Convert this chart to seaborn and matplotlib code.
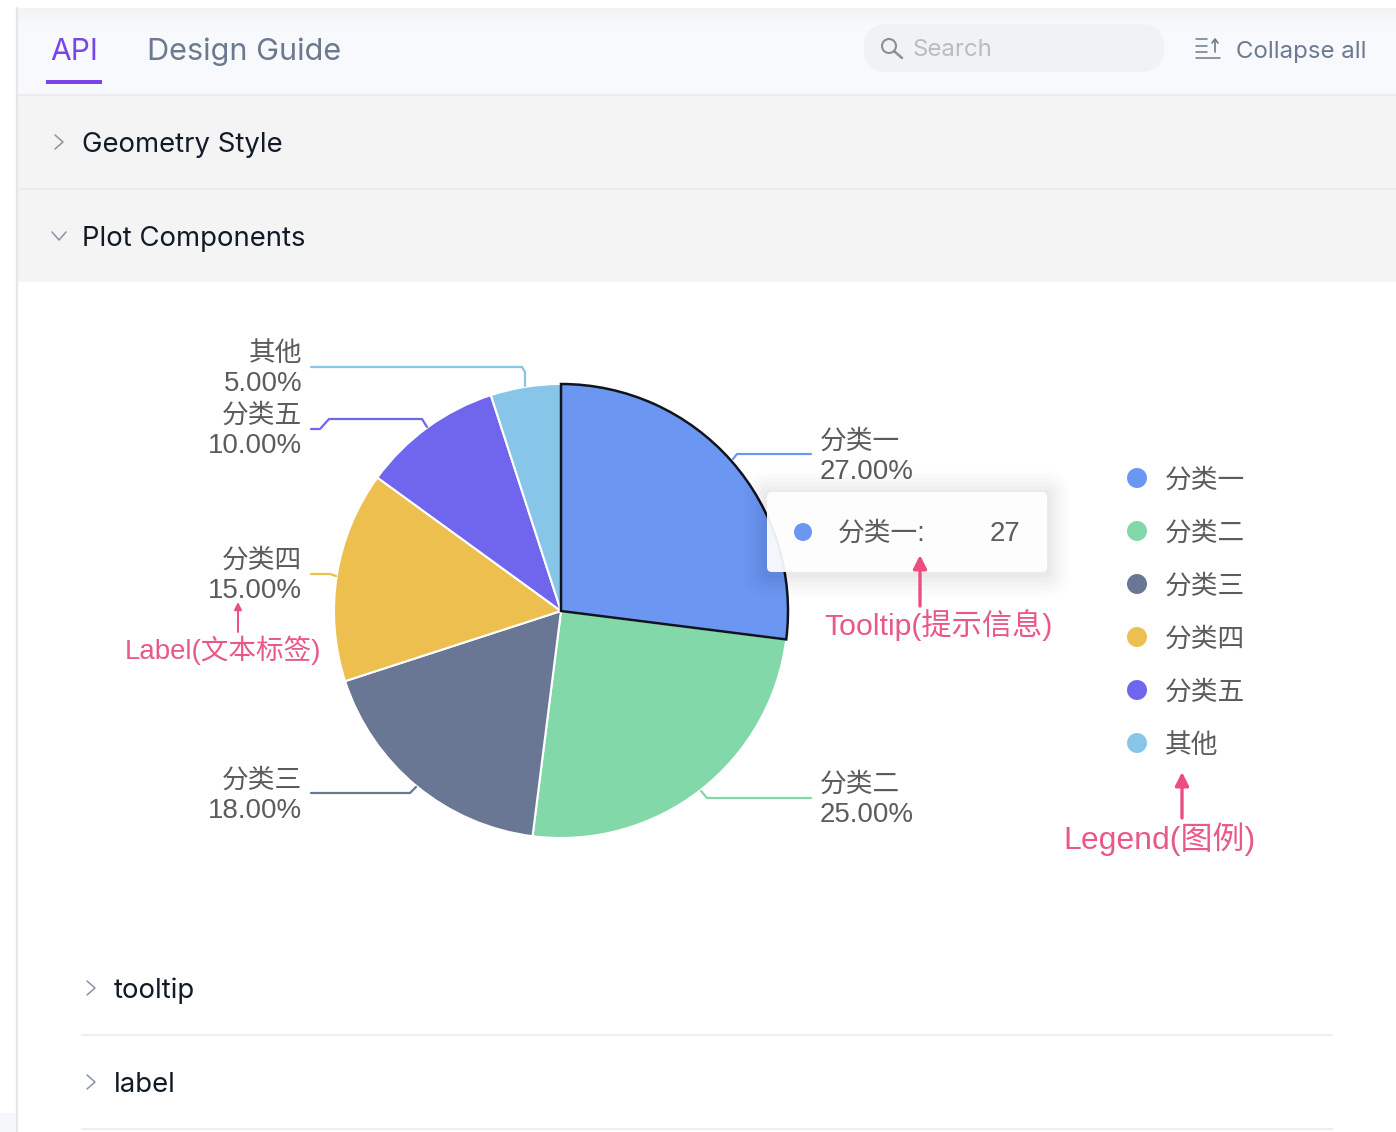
import matplotlib
matplotlib.use("Agg")
import matplotlib.pyplot as plt
from matplotlib.patches import Rectangle, FancyBboxPatch, Circle
import seaborn as sns
import pandas as pd

sns.set_style("white")
plt.rcParams["font.family"] = ["Inter", "Noto Sans CJK SC", "DejaVu Sans"]

CATEGORIES = ["分类一", "分类二", "分类三", "分类四", "分类五", "其他"]
VALUES = [27, 25, 18, 15, 10, 5]
PERCENT_LABELS = ["27.00%", "25.00%", "18.00%", "15.00%", "10.00%", "5.00%"]
COLORS = ["#6b96f2", "#83d8aa", "#697795", "#edbf4f", "#7066ee", "#87c6e8"]

W, H = 1396, 1132
PINK = "#e8588a"
LABEL_GREY = "#5c5c5c"
CHART_FONT = ["Liberation Sans", "Noto Sans CJK SC", "DejaVu Sans"]


def px(size):
    # font size given in image pixels
    return size * 0.72


fig = plt.figure(figsize=(W / 100, H / 100), dpi=100)
ax = fig.add_axes([0, 0, 1, 1])


def page_text(x, y, s, size, color, **kw):
    # va=center sits a bit high for these fonts, nudge down
    kw.setdefault("zorder", 3)
    ax.text(x, y + 3, s, fontsize=px(size), color=color, va="center", **kw)


# pie first, since it resets the limits; y is flipped so counterclock reads clockwise
wedges, _ = ax.pie(VALUES, colors=COLORS, startangle=-90, counterclock=True,
                   center=(561, 611), radius=227, frame=False,
                   wedgeprops=dict(edgecolor="white", linewidth=1.5))
wedges[0].set_edgecolor("#10141c")
wedges[0].set_linewidth(1.8)
wedges[0].set_zorder(wedges[0].get_zorder() + 0.5)
ax.set_xlim(0, W)
ax.set_ylim(H, 0)
ax.set_aspect("auto")
ax.axis("off")

# page chrome
ax.add_patch(Rectangle((18, 8), W, 87, fc="#f8f9fc", ec="none", zorder=0))
for i, c in enumerate(["#f2f3f5", "#f3f4f6", "#f4f5f7", "#f5f6f8", "#f6f7fa", "#f7f8fb"]):
    ax.add_patch(Rectangle((18, 8 + i * 3), W, 3, fc=c, ec="none", zorder=0.1))
ax.add_patch(Rectangle((18, 96), W, 186, fc="#f4f4f4", ec="none", zorder=0))
ax.plot([18, W], [95, 95], color="#ececec", lw=1.5, zorder=1)
ax.plot([18, W], [189, 189], color="#ececec", lw=1.5, zorder=1)
ax.plot([17, 17], [8, H], color="#e6e6e6", lw=1.6, zorder=1)
ax.add_patch(Rectangle((0, 1113), 16, 19, fc="#f6f7fb", ec="none", zorder=0))
ax.plot([82, 1332], [1035, 1035], color="#eeeeee", lw=1.5, zorder=1)
ax.plot([82, 1332], [1129, 1129], color="#eeeeee", lw=1.5, zorder=1)

# header
page_text(50, 49, "API", 30, "#7a45e8")
ax.add_patch(Rectangle((46, 80), 56, 4, fc="#7a45e8", ec="none", zorder=3))
page_text(147, 49, "Design Guide", 30.7, "#6b7a8f")
ax.add_patch(FancyBboxPatch((864, 24), 300, 48, boxstyle="round,pad=0,rounding_size=24",
                            fc="#f1f2f4", ec="none", zorder=2))
ax.add_patch(Circle((889, 46), 7, fc="none", ec="#8f8f8f", lw=1.5, zorder=3))
ax.plot([894, 902], [51, 58], color="#8f8f8f", lw=1.8, zorder=3)
page_text(912, 47, "Search", 24, "#bcbcbc")
for y, x1 in [(39, 1207), (46, 1207), (52, 1207), (58, 1220)]:
    ax.plot([1196, x1], [y, y], color="#6b7a8f", lw=1.1, zorder=3)
ax.plot([1215, 1215], [40, 52], color="#6b7a8f", lw=1.2, zorder=3)
ax.plot([1212, 1215, 1218], [43, 39, 43], color="#6b7a8f", lw=1.2, zorder=3)
page_text(1236, 49, "Collapse all", 24, "#6b7a8f")


def chevron(x, y, down=False):
    if down:
        ax.plot([x - 7, x, x + 7], [y - 4, y + 4, y - 4], color="#8a93a3", lw=1.1, zorder=3)
    else:
        ax.plot([x - 4, x + 4, x - 4], [y - 7, y, y + 7], color="#8a93a3", lw=1.1, zorder=3)


chevron(59, 142)
chevron(59, 236, down=True)
chevron(91, 988)
chevron(91, 1082)
page_text(82, 142, "Geometry Style", 27.5, "#111a27")
page_text(82, 236, "Plot Components", 27.5, "#111a27")
page_text(114, 988, "tooltip", 27.5, "#111a27")
page_text(114, 1082, "label", 27.5, "#111a27")

# leader lines
leaders = [
    ([811, 737, 733], [454, 454, 459]),
    ([811, 707, 701], [798, 798, 791]),
    ([311, 410, 416], [793, 793, 787]),
    ([311, 330, 336], [574, 574, 576]),
    ([311, 320, 329, 422, 427], [429, 429, 419, 419, 427]),
    ([311, 522, 525, 525], [367, 367, 372, 386]),
]
for (xs, ys), c in zip(leaders, COLORS):
    ax.plot(xs, ys, color=c, lw=1.6, zorder=2)

# outer labels
label_pos = [(820, 439, "left"), (820, 782, "left"), (302, 778, "right"),
             (302, 558, "right"), (302, 413, "right"), (302, 351, "right")]
for (x, y, ha), name, pct in zip(label_pos, CATEGORIES, PERCENT_LABELS):
    page_text(x, y, name, 26.7, LABEL_GREY, ha=ha, family=CHART_FONT)
    page_text(x, y + 30, pct, 27.6, LABEL_GREY, ha=ha, family=CHART_FONT)

# legend
legend_df = pd.DataFrame({"x": 1137, "y": [478 + 53 * i for i in range(len(CATEGORIES))],
                          "cat": CATEGORIES})
sns.scatterplot(data=legend_df, x="x", y="y", hue="cat", palette=COLORS, s=207,
                linewidth=0, legend=False, ax=ax, zorder=3)
ax.set_xlim(0, W)
ax.set_ylim(H, 0)
ax.axis("off")
for y, name in zip(legend_df["y"], CATEGORIES):
    page_text(1165, y, name, 26.7, LABEL_GREY, family=CHART_FONT)

# tooltip with a soft shadow
for grow, a in [(24, 0.008), (20, 0.01), (16, 0.012), (12, 0.014), (8, 0.016), (4, 0.018)]:
    ax.add_patch(FancyBboxPatch((767 - grow, 492 - grow + 2), 280 + 2 * grow, 80 + 2 * grow,
                                boxstyle=f"round,pad=0,rounding_size={grow + 4}",
                                fc="black", ec="none", alpha=a, zorder=4))
ax.add_patch(FancyBboxPatch((767, 492), 280, 80, boxstyle="round,pad=0,rounding_size=5",
                            fc="white", ec="none", alpha=0.93, zorder=5))
ax.add_patch(Circle((803, 532), 9, fc=COLORS[0], ec="none", zorder=6))
page_text(838, 531, f"{CATEGORIES[0]}:", 26.7, LABEL_GREY, family=CHART_FONT, zorder=6)
page_text(1020, 531, str(VALUES[0]), 27.6, LABEL_GREY, ha="right", family=CHART_FONT, zorder=6)

# pink callouts
for start, end, scale, lw in [((920, 606), (920, 555), 20, 2.4),
                              ((238, 632), (238, 602), 11, 1.4),
                              ((1182, 818), (1182, 772), 20, 2.4)]:
    ax.annotate("", xy=end, xytext=start, zorder=7,
                arrowprops=dict(arrowstyle="-|>", mutation_scale=scale, color="#ec4f7f", lw=lw,
                                shrinkA=0, shrinkB=0))
page_text(824, 622, "Tooltip(提示信息)", 30.2, PINK, family=CHART_FONT, zorder=7)
page_text(125, 647, "Label(文本标签)", 27.6, PINK, family=CHART_FONT, zorder=7)
page_text(1063, 836, "Legend(图例)", 32, PINK, family=CHART_FONT, zorder=7)

fig.savefig("out.png", dpi=100, facecolor="white")
